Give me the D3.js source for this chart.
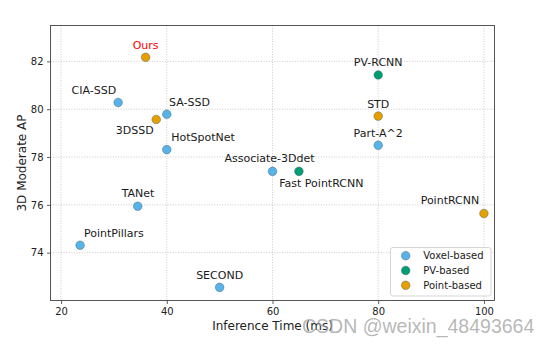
<!DOCTYPE html>
<html><head><meta charset="utf-8">
<script src="https://cdn.jsdelivr.net/npm/d3@7"></script>
<style>body{margin:0;background:#fff}svg{display:block}text{font-family:"DejaVu Sans",sans-serif}</style>
</head><body>
<svg id="c" width="549" height="346"></svg>
<script>
const methods = ["Ours","CIA-SSD","SA-SSD","3DSSD","HotSpotNet","Associate-3Ddet","Fast PointRCNN","TANet","PointPillars","SECOND","PV-RCNN","STD","Part-A^2","PointRCNN"];
const times   = [36, 30.8, 40, 38, 40, 60, 65, 34.5, 23.6, 50, 80, 80, 80, 100];
const aps     = [82.17, 80.28, 79.79, 79.57, 78.31, 77.40, 77.40, 75.94, 74.31, 72.55, 81.43, 79.71, 78.49, 75.64];
const kinds   = ["Point","Voxel","Voxel","Point","Voxel","Voxel","PV","Voxel","Voxel","Voxel","PV","Point","Voxel","Point"];
const categories = ["Voxel","PV","Point"];
const legendLabels = ["Voxel-based","PV-based","Point-based"];
const xTicks = [20,40,60,80,100];
const yTicks = [74,76,78,80,82];
// label offsets (pixels) relative to the point: [dx, dy]
const labelOffsets = [[0,-8.7],[-24.3,-8.3],[22.7,-8.3],[-21.5,15],[36.3,-8.7],[-3,-9],[22.4,15.7],[0.3,-9],[33.8,-8.7],[0,-8.7],[0,-8.6],[0,-8.6],[0,-8.6],[-34,-9]];

const colors = {Voxel:"#56B4E9", PV:"#009E73", Point:"#E69F00"};
const svg = d3.select("#c");
const L=50.5, R=494.5, T=25.5, B=300.5;
const x = d3.scaleLinear().domain([18,102]).range([L,R]);
const y = d3.scaleLinear().domain([72,83.5]).range([B,T]);

// grid
const g = svg.append("g");
g.selectAll(".gx").data(xTicks).join("line")
  .attr("x1",d=>x(d)).attr("x2",d=>x(d)).attr("y1",T).attr("y2",B)
  .attr("stroke","#b0b0b0").attr("stroke-width",0.8).attr("stroke-dasharray","1,1.6").attr("opacity",0.8);
g.selectAll(".gy").data(yTicks).join("line")
  .attr("x1",L).attr("x2",R).attr("y1",d=>y(d)).attr("y2",d=>y(d))
  .attr("stroke","#b0b0b0").attr("stroke-width",0.8).attr("stroke-dasharray","1,1.6").attr("opacity",0.8);

// axes
const xa = svg.append("g").attr("transform",`translate(0,${B})`)
  .call(d3.axisBottom(x).tickValues(xTicks).tickSize(3.5).tickPadding(3.5));
const ya = svg.append("g").attr("transform",`translate(${L},0)`)
  .call(d3.axisLeft(y).tickValues(yTicks).tickSize(3.5).tickPadding(3.5));
[xa,ya].forEach(a=>{
  a.select(".domain").remove();
  a.selectAll("line").attr("stroke","#333").attr("stroke-width",0.8);
  a.selectAll("text").attr("fill","#222").style("font-size","10px").style("font-family","DejaVu Sans");
});
svg.append("rect").attr("x",L).attr("y",T).attr("width",R-L).attr("height",B-T)
  .attr("fill","none").attr("stroke","#444").attr("stroke-width",0.9);

// axis labels
svg.append("text").attr("x",(L+R)/2).attr("y",330).attr("text-anchor","middle")
  .style("font-size","12px").attr("fill","#222").text("Inference Time (ms)");
svg.append("text").attr("transform",`translate(26,${(T+B)/2}) rotate(-90)`).attr("text-anchor","middle")
  .style("font-size","12px").attr("fill","#222").text("3D Moderate AP");

// points
const idx = d3.range(methods.length);
svg.append("g").selectAll("circle").data(idx).join("circle")
  .attr("cx",i=>x(times[i])).attr("cy",i=>y(aps[i])).attr("r",4.3)
  .attr("fill",i=>colors[kinds[i]]).attr("stroke","#3d5560").attr("stroke-opacity",0.7).attr("stroke-width",0.6);

// labels
svg.append("g").selectAll("text").data(idx).join("text")
  .attr("x",i=>x(times[i])+labelOffsets[i][0]).attr("y",i=>y(aps[i])+labelOffsets[i][1])
  .attr("text-anchor","middle").style("font-size","11px")
  .attr("fill",i=>methods[i]==="Ours"?"#ff0000":"#1a1a1a").text(i=>methods[i]);

// legend
const lg = svg.append("g");
lg.append("rect").attr("x",390.5).attr("y",247.5).attr("width",100.5).attr("height",48.5).attr("rx",2.5)
  .attr("fill","#fff").attr("fill-opacity",0.85).attr("stroke","#d0d0d0").attr("stroke-width",0.9);
categories.forEach((c,k)=>{
  const yy = 255.7 + k*14.8;
  lg.append("circle").attr("cx",405.7).attr("cy",yy).attr("r",4.3)
    .attr("fill",colors[c]).attr("stroke","#3d5560").attr("stroke-opacity",0.7).attr("stroke-width",0.6);
  lg.append("text").attr("x",423.3).attr("y",yy+3.6).style("font-size","10px").attr("fill","#1a1a1a").text(legendLabels[k]);
});

// watermark
svg.append("text").attr("x",302).attr("y",333).style("font-family","Liberation Sans, Arial, sans-serif")
  .style("font-size","19.5px").attr("fill","#a0a0a0").attr("fill-opacity",0.75).text("CSDN @weixin_48493664");
</script>
</body></html>
